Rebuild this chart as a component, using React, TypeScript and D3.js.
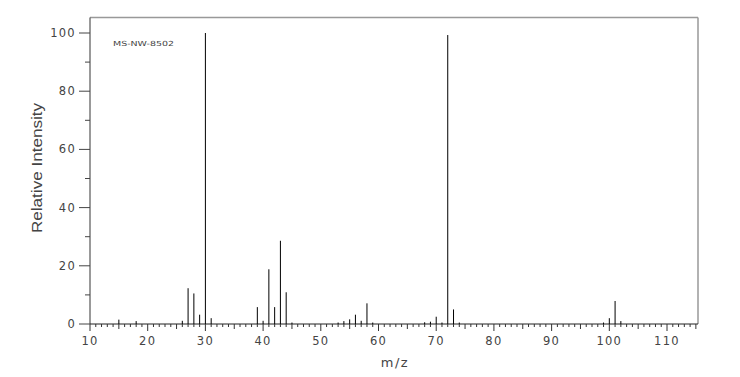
import React from "react";
import * as d3 from "d3";

const mzValues = [15, 18, 26, 27, 28, 29, 30, 31, 39, 40, 41, 42, 43, 44, 45, 53, 54, 55, 56, 57, 58, 59, 68, 69, 70, 71, 72, 73, 74, 99, 100, 101, 102];
const intensities = [1.5, 1, 1.1, 12.3, 10.5, 3.2, 100, 2, 5.8, 1.1, 18.8, 5.8, 28.6, 10.9, 0.5, 0.5, 1, 1.6, 3.2, 1.1, 7.1, 0.5, 0.6, 0.8, 2.5, 0.5, 99.3, 5.0, 0.5, 0.5, 2, 7.9, 1];
const xTickLabels = [10, 20, 30, 40, 50, 60, 70, 80, 90, 100, 110];
const yTickLabels = [0, 20, 40, 60, 80, 100];
const titleText = "MS-NW-8502";

const W = 740;
const H = 377;
const left = 90;
const right = 698;
const top = 17.5;
const bottom = 324;

export default function App() {
  const x = d3.scaleLinear().domain([10, 115.37]).range([left, right]);
  const y = d3.scaleLinear().domain([0, 100]).range([bottom, 33]);
  const minorX = d3.range(10, 116, 1);
  const minorY = d3.range(0, 101, 10);
  const font = "'DejaVu Sans', Verdana, sans-serif";
  return (
    <svg width={W} height={H} style={{ position: "absolute", left: 0, top: 0, background: "#fff" }}>
      {/* frame */}
      <line x1={left} x2={right} y1={top} y2={top} stroke="#999" strokeWidth={1.5} />
      <line x1={right} x2={right} y1={top} y2={bottom} stroke="#999" strokeWidth={1.5} />
      <line x1={left} x2={left} y1={top} y2={bottom} stroke="#555" strokeWidth={1.2} />
      <line x1={left} x2={right} y1={bottom} y2={bottom} stroke="#222" strokeWidth={1.2} />
      {/* x ticks */}
      {minorX.map((v) => {
        const len = v % 10 === 0 ? 7 : v % 5 === 0 ? 5 : 3;
        return <line key={"xt" + v} x1={x(v)} x2={x(v)} y1={bottom} y2={bottom + len} stroke="#333" strokeWidth={1} />;
      })}
      {xTickLabels.map((v) => (
        <text key={"xl" + v} x={x(v)} y={345} textAnchor="middle" fontFamily={font} fontSize={11.5} letterSpacing={1.3} fill="#444">
          {v}
        </text>
      ))}
      {/* y ticks */}
      {minorY.map((v) => {
        const len = v % 20 === 0 ? 11 : 5;
        return <line key={"yt" + v} x1={left - len} x2={left} y1={y(v)} y2={y(v)} stroke="#444" strokeWidth={1} />;
      })}
      {yTickLabels.map((v) => (
        <text key={"yl" + v} x={76} y={y(v) + 4} textAnchor="end" fontFamily={font} fontSize={11.5} letterSpacing={1.3} fill="#444">
          {v}
        </text>
      ))}
      {/* axis titles */}
      <text
        transform={`translate(42,${168}) rotate(-90)`}
        textAnchor="middle"
        fontFamily="'Liberation Sans', Arial, sans-serif"
        fontSize={14}
        textLength={130}
        lengthAdjust="spacingAndGlyphs"
        fill="#444"
      >
        Relative Intensity
      </text>
      <text x={395} y={367} textAnchor="middle" fontFamily={font} fontSize={13} letterSpacing={1.5} fill="#444">
        m/z
      </text>
      <text x={113} y={46} fontFamily={font} fontSize={7} textLength={61} lengthAdjust="spacingAndGlyphs" fill="#444">
        {titleText}
      </text>
      {/* peaks */}
      {mzValues.map((m, i) => (
        <line key={"p" + m} x1={x(m)} x2={x(m)} y1={y(0)} y2={y(intensities[i])} stroke="#000" strokeWidth={1} />
      ))}
    </svg>
  );
}
